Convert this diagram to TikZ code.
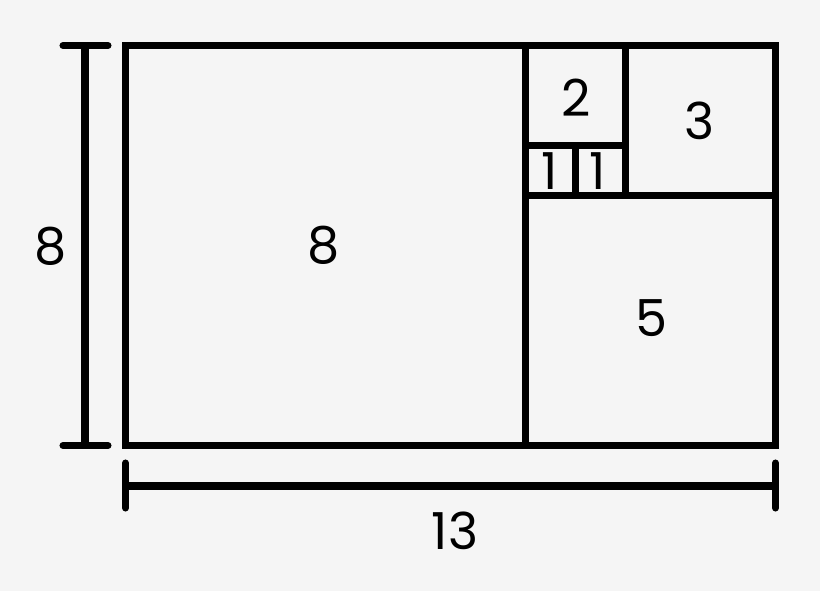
\documentclass[tikz,border=0pt]{standalone}
\usepackage{fontspec}
\setmainfont{Poppins}
\usepackage{xcolor}
\definecolor{paper}{HTML}{F5F5F5}
\tikzset{
	edge/.style = {line width = 4pt},
	tick/.style = {line width = 4pt, line cap = round},
	num/.style = {font = \fontsize{29}{30}\selectfont, inner sep = 0pt}
}

\begin{document}
\begin{tikzpicture}[xscale = 1, yscale = 1]
	% background
	\fill[paper] (-2.51,-2.91) rectangle (13.89,8.91);
	\useasboundingbox (-2.51,-2.91) rectangle (13.89,8.91);
	
	% squares
	\draw[edge] (0,0) rectangle (13,8);
	\draw[edge] (8,0) -- (8,8);
	\draw[edge] (8,5) -- (13,5);
	\draw[edge] (10,5) -- (10,8);
	\draw[edge] (8,6) -- (10,6);
	\draw[edge] (9,5) -- (9,6);
	
	\node[num] (s8) at (3.96,4.01) {8};
	\node[num] (s5) at (10.52,2.54) {5};
	\node[num] (s3) at (11.47,6.49) {3};
	\node[num] (s2) at (9.01,6.95) {2};
	\node[num] (s1a) at (8.49,5.49) {1};
	\node[num] (s1b) at (9.45,5.49) {1};
	
	% dimensions
	\draw[tick] (-1.25,8) -- (-0.35,8);
	\draw[tick] (-1.25,0) -- (-0.35,0);
	\draw[edge] (-0.81,0) -- (-0.81,8);
	
	\draw[tick] (0,-0.35) -- (0,-1.25);
	\draw[tick] (13,-0.35) -- (13,-1.25);
	\draw[edge] (0,-0.81) -- (13,-0.81);
	
	\node[num] (h) at (-1.49,3.99) {8};
	\node[num] (w) at (6.59,-1.71) {13};
	
\end{tikzpicture}
\end{document}
